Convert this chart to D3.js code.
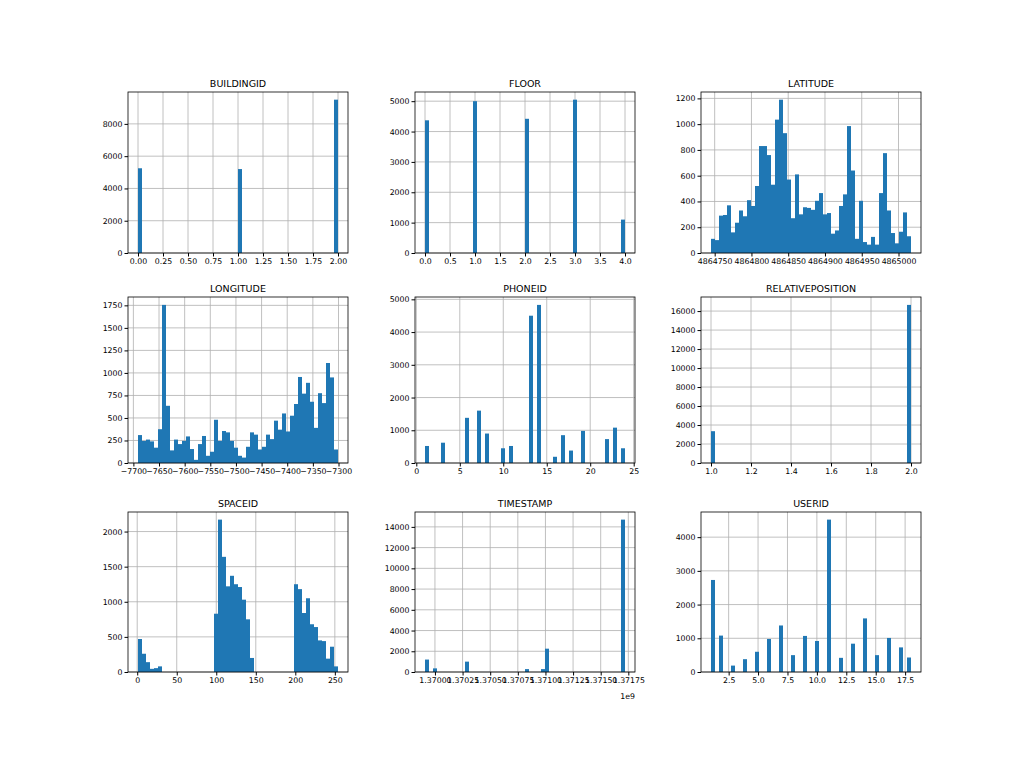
<!DOCTYPE html>
<html><head><meta charset="utf-8">
<script src="https://cdn.jsdelivr.net/npm/d3@7"></script>
<style>
body { margin: 0; background: #fff; }
text { font-family: "DejaVu Sans", sans-serif; fill: #000; }
</style></head>
<body><svg id="chart" width="1024" height="768"></svg>
<script>
// column names, in grid order
var titles = ["BUILDINGID", "FLOOR", "LATITUDE", "LONGITUDE", "PHONEID",
              "RELATIVEPOSITION", "SPACEID", "TIMESTAMP", "USERID"];

// data range (min, max) of each column; 50 bins each
var ranges = [[0, 2], [0, 4], [4864745, 4865017], [-7691, -7301], [1, 24],
              [1, 2], [1, 254], [1369910000, 1371720000], [1, 18]];

// dense bin counts
var latitudeCounts = [110,100,290,295,370,160,235,330,285,410,365,520,830,830,760,530,1035,1190,930,570,
                      270,610,300,355,350,335,405,465,300,310,150,175,365,455,985,640,110,405,85,65,
                      125,65,465,775,330,155,75,165,315,130];
var longitudeCounts = [310,245,260,240,170,375,1755,635,140,260,210,245,295,155,35,210,300,80,125,480,
                       245,355,340,245,170,80,60,180,340,315,150,180,315,265,470,370,550,350,525,655,
                       955,770,890,680,390,775,665,1110,950,150];

// sparse columns: observed values and their counts
var buildingValues = [0, 1, 2],           buildingCounts = [5250, 5200, 9500];
var floorValues = [0, 1, 2, 3, 4],        floorCounts = [4370, 5000, 4420, 5050, 1100];
var phoneValues = [1, 3, 6, 7, 8, 10, 11, 13, 14, 16, 17, 18, 19, 22, 23, 24];
var phoneCounts = [520, 620, 1380, 1600, 900, 450, 520, 4500, 4830, 190, 850, 380, 980, 730, 1080, 450];
var relposValues = [1, 2],                relposCounts = [3350, 16650];
var spaceValues = [2, 7, 12, 17, 22, 27, 98, 103, 108, 113, 118, 123, 128, 133, 138, 143,
                   199, 204, 209, 214, 219, 224, 229, 234, 239, 244, 249];
var spaceCounts = [470, 260, 140, 45, 55, 80, 830, 2170, 1640, 1220, 1370, 1250, 1210, 1030, 750, 200,
                   1250, 1180, 840, 1050, 680, 640, 450, 440, 190, 360, 80];
var timeValues = [1369912000, 1369990000, 1370290000, 1370850000, 1370980000, 1371010000, 1371715000];
var timeCounts = [1200, 350, 1000, 280, 280, 2250, 14700];
var userValues = [1, 2, 3, 4, 5, 6, 7, 8, 9, 10, 11, 12, 13, 14, 15, 16, 17, 18];
var userCounts = [2730, 1080, 190, 380, 600, 980, 1380, 500, 1070, 920, 4520, 420, 840, 1590, 500, 1010, 730, 430];

// tick labels
var xTicks = [
  [0, 0.25, 0.5, 0.75, 1, 1.25, 1.5, 1.75, 2],
  [0, 0.5, 1, 1.5, 2, 2.5, 3, 3.5, 4],
  [4864750, 4864800, 4864850, 4864900, 4864950, 4865000],
  [-7700, -7650, -7600, -7550, -7500, -7450, -7400, -7350, -7300],
  [0, 5, 10, 15, 20, 25],
  [1, 1.2, 1.4, 1.6, 1.8, 2],
  [0, 50, 100, 150, 200, 250],
  [1370000000, 1370250000, 1370500000, 1370750000, 1371000000, 1371250000, 1371500000, 1371750000],
  [2.5, 5, 7.5, 10, 12.5, 15, 17.5]
];
var yTicks = [
  [0, 2000, 4000, 6000, 8000],
  [0, 1000, 2000, 3000, 4000, 5000],
  [0, 200, 400, 600, 800, 1000, 1200],
  [0, 250, 500, 750, 1000, 1250, 1500, 1750],
  [0, 1000, 2000, 3000, 4000, 5000],
  [0, 2000, 4000, 6000, 8000, 10000, 12000, 14000, 16000],
  [0, 500, 1000, 1500, 2000],
  [0, 2000, 4000, 6000, 8000, 10000, 12000, 14000],
  [0, 1000, 2000, 3000, 4000]
];
var xFormats = [".2f", ".1f", "d", "d", "d", ".1f", "d", null, ".1f"];

function binSparse(range, values, counts) {
  var w = (range[1] - range[0]) / 50, bins = d3.range(50).map(function() { return 0; });
  values.forEach(function(v, i) {
    var k = Math.min(49, Math.floor((v - range[0]) / w));
    bins[k] += counts[i];
  });
  return bins;
}

var allCounts = [
  binSparse(ranges[0], buildingValues, buildingCounts),
  binSparse(ranges[1], floorValues, floorCounts),
  latitudeCounts,
  longitudeCounts,
  binSparse(ranges[4], phoneValues, phoneCounts),
  binSparse(ranges[5], relposValues, relposCounts),
  binSparse(ranges[6], spaceValues, spaceCounts),
  binSparse(ranges[7], timeValues, timeCounts),
  binSparse(ranges[8], userValues, userCounts)
];

var colX = [128, 415, 701], colW = 220;
var rowY = [[92, 253], [297, 463], [512, 672]];
var svg = d3.select("#chart");

titles.forEach(function(title, i) {
  var x0 = colX[i % 3], y0 = rowY[Math.floor(i / 3)][0], y1 = rowY[Math.floor(i / 3)][1];
  var lo = ranges[i][0], hi = ranges[i][1], pad = (hi - lo) * 0.05;
  var counts = allCounts[i], w = (hi - lo) / 50;
  var x = d3.scaleLinear().domain([lo - pad, hi + pad]).range([x0, x0 + colW]);
  var y = d3.scaleLinear().domain([0, d3.max(counts) * 1.05]).range([y1, y0]);
  var g = svg.append("g");

  // grid
  g.selectAll(".gx").data(xTicks[i]).enter().append("line")
    .attr("x1", function(d) { return x(d); }).attr("x2", function(d) { return x(d); })
    .attr("y1", y0).attr("y2", y1).attr("stroke", "#b0b0b0").attr("stroke-width", 0.8);
  g.selectAll(".gy").data(yTicks[i]).enter().append("line")
    .attr("x1", x0).attr("x2", x0 + colW)
    .attr("y1", function(d) { return y(d); }).attr("y2", function(d) { return y(d); })
    .attr("stroke", "#b0b0b0").attr("stroke-width", 0.8);

  // bars
  g.selectAll("rect.bar").data(counts).enter().append("rect")
    .attr("x", function(d, k) { return x(lo + k * w); })
    .attr("width", function(d, k) { return x(lo + (k + 1) * w) - x(lo + k * w); })
    .attr("y", function(d) { return y(d); })
    .attr("height", function(d) { return y1 - y(d); })
    .attr("fill", "#1f77b4");

  // axes
  var fmt = xFormats[i] ? d3.format(xFormats[i]) : function(d) { return d3.format(".5f")(d / 1e9); };
  var xa = d3.axisBottom(x).tickValues(xTicks[i]).tickSize(3.5).tickPadding(2)
    .tickFormat(function(d) { return fmt(d).replace("-", "\u2212"); });
  var ya = d3.axisLeft(y).tickValues(yTicks[i]).tickSize(3.5).tickPadding(2).tickFormat(d3.format("d"));
  var ax = g.append("g").attr("transform", "translate(0," + y1 + ")").call(xa);
  var ay = g.append("g").attr("transform", "translate(" + x0 + ",0)").call(ya);
  [ax, ay].forEach(function(a) {
    a.select(".domain").remove();
    a.selectAll("text").attr("font-size", 7.8).attr("font-family", "DejaVu Sans");
  });
  if (i === 7) {
    g.append("text").attr("x", x0 + colW).attr("y", y1 + 27).attr("text-anchor", "end")
      .attr("font-size", 7.8).text("1e9");
  }

  g.append("rect").attr("x", x0).attr("y", y0).attr("width", colW).attr("height", y1 - y0)
    .attr("fill", "none").attr("stroke", "#000").attr("stroke-width", 0.8);
  g.append("text").attr("x", x0 + colW / 2).attr("y", y0 - 5).attr("text-anchor", "middle")
    .attr("font-size", 9.5).text(title);
});
</script>
</body></html>
